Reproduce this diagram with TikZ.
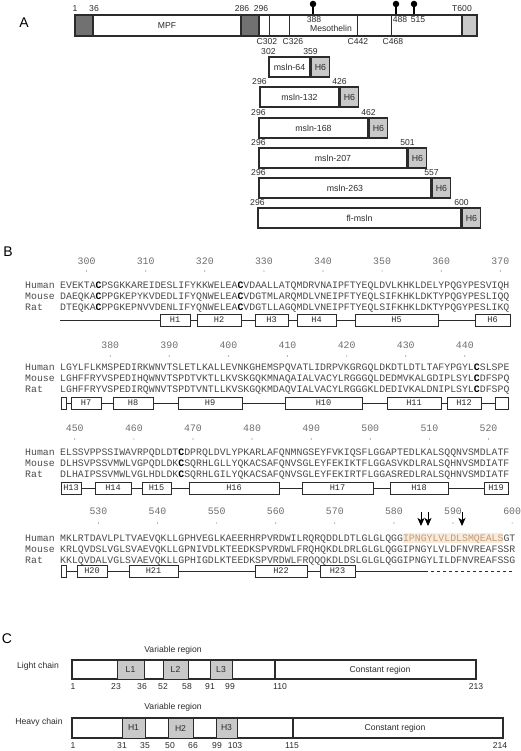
\documentclass[tikz,border=0pt]{standalone}
\usepackage{fontspec}
\setmainfont{Liberation Sans}
\newfontfamily\seqfont{Liberation Mono}
\usetikzlibrary{arrows.meta}
\definecolor{ink}{HTML}{2B2B2B}
\definecolor{darkbox}{HTML}{717171}
\definecolor{lightbox}{HTML}{C9C9C9}
\definecolor{seqgray}{HTML}{4A4A4A}
\definecolor{numgray}{HTML}{6E6E6E}
\definecolor{epifill}{HTML}{F8EBDC}
\definecolor{epitext}{HTML}{C29A74}
\newcommand{\cys}{\textbf{\color{black}C}}
\def\cw{5.91}
\tikzset{lab/.style={font=\fontsize{8.6}{10}\selectfont,inner sep=0pt,text=ink}, panel/.style={font=\fontsize{14}{16}\selectfont,inner sep=0pt}, seg/.style={draw=ink,line width=1.2pt,minimum height=21pt,inner sep=0pt,font=\fontsize{8.6}{10}\selectfont,text=ink}, cdr/.style={seg,fill=lightbox,line width=0.9pt}, divider/.style={draw=ink,line width=1.2pt}, cysline/.style={draw=ink,line width=0.6pt}, cbox/.style={draw=ink,line width=1.2pt,fill=white,minimum height=20pt,inner sep=0pt,font=\fontsize{8.8}{10}\selectfont,text=ink}, tag/.style={cbox,fill=lightbox,minimum width=18.5pt}, lolli/.style={circle,fill=black,minimum size=6.5pt,inner sep=0pt}, lollistem/.style={draw=black,line width=1.3pt}, seq/.style={font=\seqfont\fontsize{9.85}{10}\selectfont,text=seqgray,anchor=base west,inner sep=0pt}, num/.style={font=\seqfont\fontsize{9.85}{10}\selectfont,text=numgray,inner sep=0pt}, helix/.style={draw=ink,line width=0.9pt,fill=white,minimum height=12pt,inner sep=0pt,font=\seqfont\fontsize{8.6}{10}\selectfont,text=ink}, hline/.style={draw=ink,line width=0.9pt}, epibox/.style={fill=epifill,inner sep=0pt,minimum height=10pt}, pointer/.style={-{Stealth[length=8pt,width=7pt,inset=2pt]},line width=1pt,draw=black}}
\begin{document}
\begin{tikzpicture}[x=1pt,y=-1pt]
\useasboundingbox (0,0) rectangle (520,751);
% A: precursor and constructs
\node[panel] (pa) at (24,23) {A};
\node[seg,fill=darkbox,minimum width=18pt] (sig) at (84,25.5) {};
\node[seg,minimum width=148pt] (mpf) at (167,25.5) {MPF};
\node[seg,fill=darkbox,minimum width=18pt] (cut) at (250,25.5) {};
\node[seg,minimum width=203pt] (meso) at (360.5,25.5) {};
\node[seg,fill=lightbox,minimum width=15pt] (gpi) at (469.5,25.5) {};
\foreach \x in {269,289,357,391} \draw[cysline] (\x,0 |- meso.north) -- (\x,0 |- meso.south);
\node[lab] (mesolab) at (331,28.5) {Mesothelin};
\foreach \x/\t in {75/1,94/36,242/286,261/296,462/T600} \node[lab] (a\t) at (\x,9) {\t};
\foreach \x/\t in {267/C302,293/C326,358/C442,393/C468} \node[lab] (b\t) at (\x,42) {\t};
\foreach \x/\t/\lx in {313/388/314,396/488/400,414/515/418}{
  \node[lolli] (g\t) at (\x,4) {};
  \draw[lollistem] (g\t) -- (g\t |- meso.north);
  \node[lab] (l\t) at (\lx,20) {\t};
}
\foreach \nm/\xa/\xb/\yt/\la/\lb/\txt in {c64/269/310/57/302/359/msln-64, c132/260/339/87/296/426/msln-132, c168/259/368/118/296/462/msln-168, c207/259/407/148/296/501/msln-207, c263/259/431/178/296/557/msln-263, cfl/258/461/208/296/600/fl-msln}{
  \node[cbox,minimum width=\xb-\xa] (\nm) at ({(\xa+\xb)/2},\yt+10) {\txt};
  \node[tag,anchor=west] (\nm h) at (\nm.east) {H6};
  \node[lab,yshift=5pt] (\nm a) at (\nm.north west) {\la};
  \node[lab,yshift=5pt] (\nm b) at (\nm.north east) {\lb};
}
% B: alignment
\node[panel] (pb) at (8,252) {B};
\foreach \s/\a/\b/\yn/\yd in {296/300/370/261/271,372/380/440/345/356,448/450/520/428/439,524/530/600/511/523}{
  \pgfmathtruncatemacro\c{\a+10}
  \foreach \n in {\a,\c,...,\b}{
    \node[num] (p\n) at ({60+(\n-\s+0.5)*\cw},\yn) {\n};
    \fill[numgray] ({60+(\n-\s+0.5)*\cw},\yd) circle (0.6);
  }
}
\foreach \r/\y in {1/288,2/370,3/455,4/541}
  \foreach \sp/\dy in {Human/0,Mouse/11,Rat/22} \node[seq] (\sp\r) at (25,\y+\dy) {\sp};
\node[seq] (hs1) at (60,288) {EVEKTA\cys PSGKKAREIDESLIFYKKWELEA\cys VDAALLATQMDRVNAIPFTYEQLDVLKHKLDELYPQGYPESVIQH};
\node[seq] (ms1) at (60,299) {DAEQKA\cys PPGKEPYKVDEDLIFYQNWELEA\cys VDGTMLARQMDLVNEIPFTYEQLSIFKHKLDKTYPQGYPESLIQQ};
\node[seq] (rs1) at (60,310) {DTEQKA\cys PPGKEPNVVDENLIFYQNWELEA\cys VDGTLLAGQMDLVNEIPFTYEQLSIFKHKLDKTYPQGYPESLIKQ};
\node[seq] (hs2) at (60,370) {LGYLFLKMSPEDIRKWNVTSLETLKALLEVNKGHEMSPQVATLIDRPVKGRGQLDKDTLDTLTAFYPGYL\cys SLSPE};
\node[seq] (ms2) at (60,381) {LGHFFRYVSPEDIHQWNVTSPDTVKTLLKVSKGQKMNAQAIALVACYLRGGGQLDEDMVKALGDIPLSYL\cys DFSPQ};
\node[seq] (rs2) at (60,392) {LGHFFRYVSPEDIRQWNVTSPDTVNTLLKVSKGQKMDAQVIALVACYLRGGGKLDEDIVKALDNIPLSYL\cys DFSPQ};
\node[seq] (hs3) at (60,455) {ELSSVPPSSIWAVRPQDLDT\cys DPRQLDVLYPKARLAFQNMNGSEYFVKIQSFLGGAPTEDLKALSQQNVSMDLATF};
\node[seq] (ms3) at (60,466) {DLHSVPSSVMWLVGPQDLDK\cys SQRHLGLLYQKACSAFQNVSGLEYFEKIKTFLGGASVKDLRALSQHNVSMDIATF};
\node[seq] (rs3) at (60,477) {DLHAIPSSVMWLVGLHDLDK\cys SQRHLGILYQKACSAFQNVSGLEYFEKIRTFLGGASREDLRALSQHNVSMDIATF};
\node[epibox,minimum width=17*\cw] (epi) at ({60+66.5*\cw},538) {};
\node[seq] (hs4) at (60,541) {MKLRTDAVLPLTVAEVQKLLGPHVEGLKAEERHRPVRDWILRQRQDDLDTLGLGLQGG\textcolor{epitext}{IPNGYLVLDLSMQEALS}GT};
\node[seq] (ms4) at (60,552) {KRLQVDSLVGLSVAEVQKLLGPNIVDLKTEEDKSPVRDWLFRQHQKDLDRLGLGLQGGIPNGYLVLDFNVREAFSSR};
\node[seq] (rs4) at (60,563) {KKLQVDALVGLSVAEVQKLLGPHIGDLKTEEDKSPVRDWLFRQQQKDLDSLGLGLQGGIPNGYLILDFNVREAFSSG};
\foreach \i/\x in {1/421,2/428,3/462}{
  \coordinate (t\i) at (\x,512); \coordinate (e\i) at (\x,526);
  \draw[pointer] (t\i) -- (e\i);
}
% helices
\foreach \nm/\xa/\xb/\yy/\lab in {h1/160/190/320/H1, h2/197/241/320/H2, h3/255/288/320/H3, h4/297/336/320/H4, h5/355/438/320/H5, h6/475/510/320/H6, s2a/61/66/403/{}, h7/71/101/403/H7, h8/113/153/403/H8, h9/178/242/403/H9, h10/285/362/403/H10, h11/387/441/403/H11, h12/447/481/403/H12, s2b/495/508/403/{}, h13/61/81/488/H13, h14/95/131/488/H14, h15/142/171/488/H15, h16/189/279/488/H16, h17/302/373/488/H17, h18/390/448/488/H18, h19/484/508/488/H19, s4a/61/66/571/{}, h20/77/107/571/H20, h21/129/178/571/H21, h22/255/307/571/H22, h23/320/355/571/H23}
  \node[helix,minimum width=\xb-\xa] (\nm) at ({(\xa+\xb)/2},\yy) {\lab};
\coordinate (r1s) at (60,320); \coordinate (r4m) at (425,571); \coordinate (r4e) at (513,571);
\foreach \a/\b in {r1s/h1,h1/h2,h2/h3,h3/h4,h4/h5,h5/h6,s2a/h7,h7/h8,h8/h9,h9/h10,h10/h11,h11/h12,h12/s2b,h13/h14,h14/h15,h15/h16,h16/h17,h17/h18,h18/h19,s4a/h20,h20/h21,h21/h22,h22/h23,h23/r4m}
  \draw[hline] (\a) -- (\b);
\draw[hline,dash pattern=on 3pt off 3pt] (r4m) -- (r4e);
% C: antibody chains
\node[panel] (pc) at (7,639) {C};
\node[lab] (lv) at (173,650) {Variable region};
\node[lab] (lname) at (38,666) {Light chain};
\node[seg,minimum width=404pt,minimum height=19pt] (lc) at (274,669.5) {};
\draw[divider] (275,0 |- lc.north) -- (275,0 |- lc.south);
\foreach \nm/\xa/\xb in {L1/117/144,L2/163/188,L3/210/232} \node[cdr,minimum height=19pt,minimum width=\xb-\xa] (\nm) at ({(\xa+\xb)/2},669.5) {\nm};
\node[lab] (lconst) at (380,670) {Constant region};
\foreach \x/\t in {73/1,116/23,142/36,163/52,187/58,210/91,230/99,280/110,476/213} \node[lab] (ln\t) at (\x,687) {\t};
\node[lab] (hv) at (173,707) {Variable region};
\node[lab] (hname) at (39,722) {Heavy chain};
\node[seg,minimum width=431pt,minimum height=20pt] (hc) at (287.5,728) {};
\draw[divider] (293,0 |- hc.north) -- (293,0 |- hc.south);
\foreach \nm/\xa/\xb in {H1/122/145,H2/168/193,H3/216/237} \node[cdr,minimum height=20pt,minimum width=\xb-\xa] (\nm) at ({(\xa+\xb)/2},728) {\nm};
\node[lab] (hconst) at (395,728) {Constant region};
\foreach \x/\t in {73/1,122/31,145/35,170/50,193/66,217/99,235/103,292/115,500/214} \node[lab] (hn\t) at (\x,745.5) {\t};
\end{tikzpicture}
\end{document}
